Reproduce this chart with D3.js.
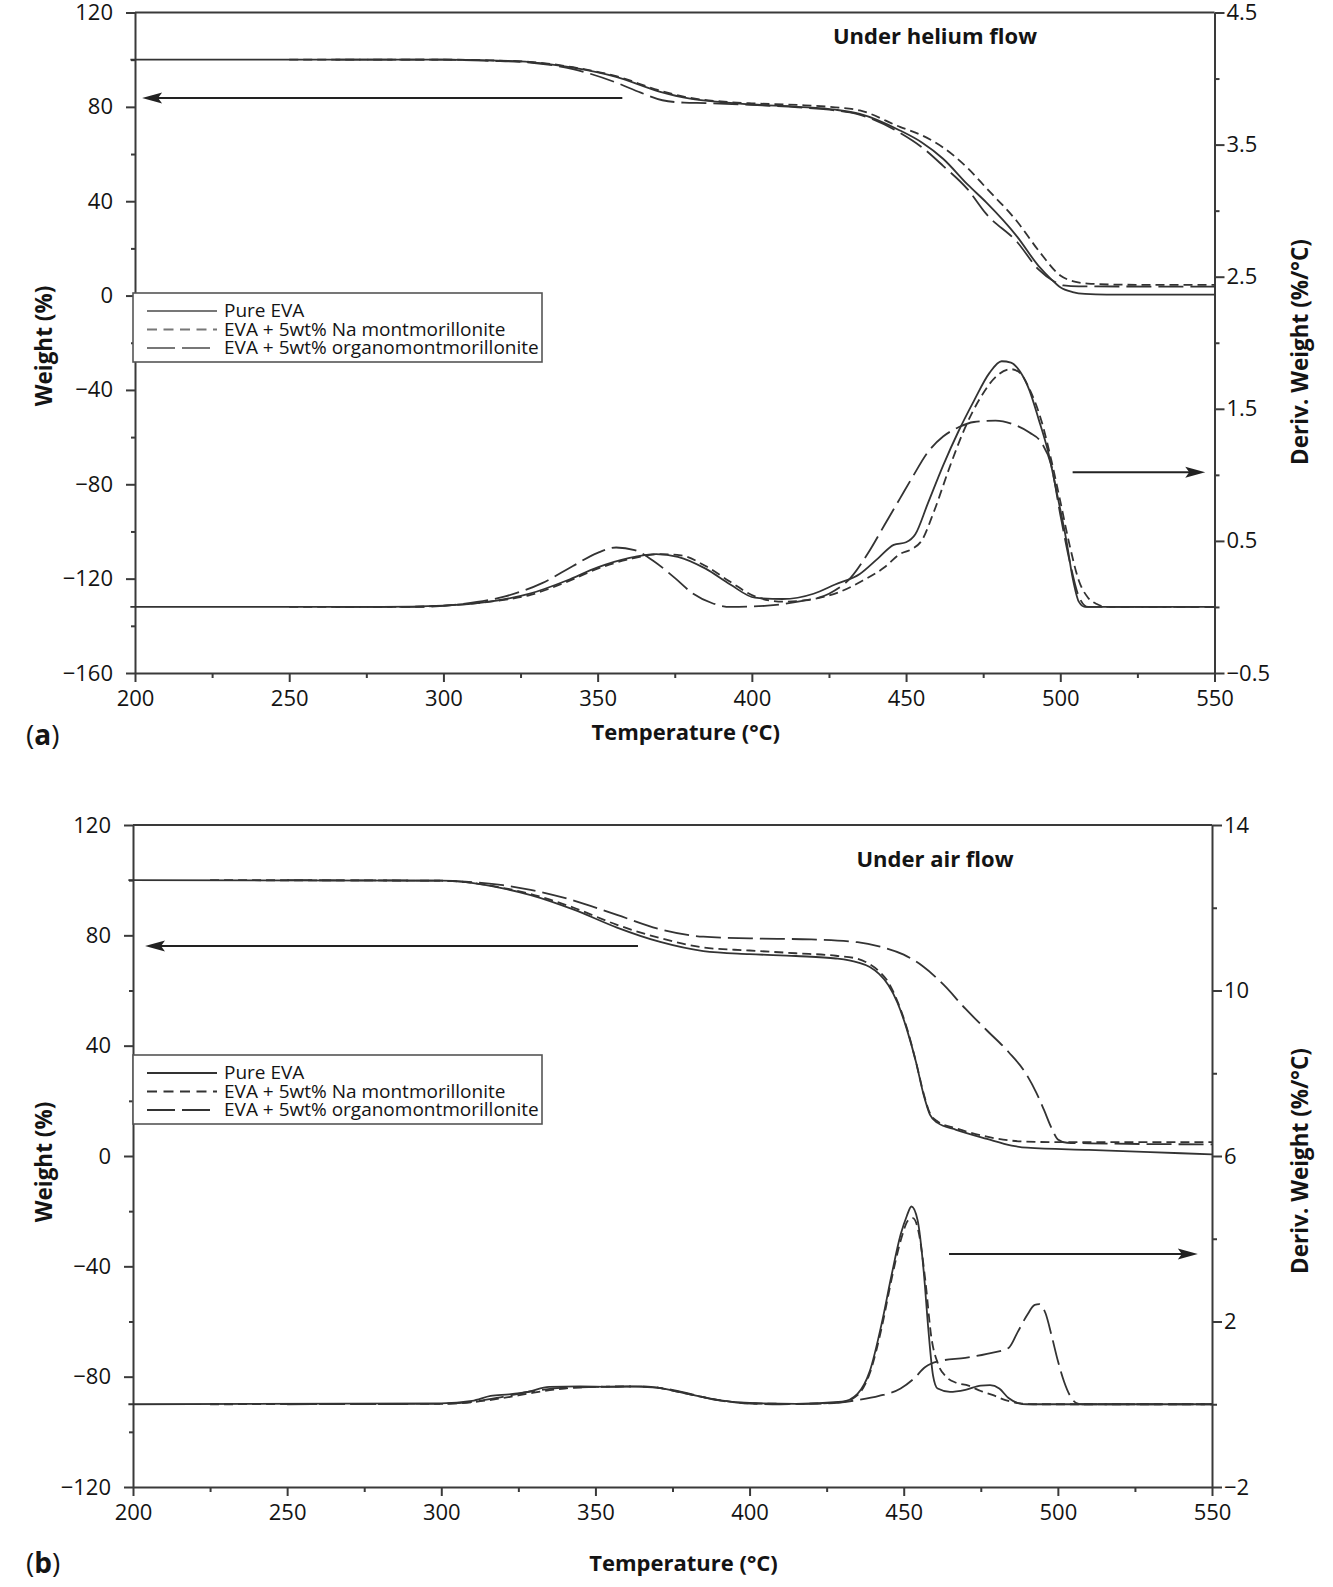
<!DOCTYPE html>
<html>
<head>
<meta charset="utf-8">
<script src="https://cdn.jsdelivr.net/npm/d3@7"></script>
<style>
  body { margin: 0; background: #fff; }
  svg { display: block; }
  text { font-family: "Open Sans", sans-serif; fill: #141414; }
</style>
</head>
<body>
<div id="chart"></div>
<script>
// ---- data ----
const seriesNames = ["Pure EVA", "EVA + 5wt% Na montmorillonite", "EVA + 5wt% organomontmorillonite"];

const tempTicks = [200, 250, 300, 350, 400, 450, 500, 550];
const tempMinorTicks = [225, 275, 325, 375, 425, 475, 525];

const heliumWeightTicks = [120, 80, 40, 0, -40, -80, -120, -160];
const heliumWeightMinor = [100, 60, 20, -20, -60, -100, -140];
const heliumDerivTicks = [4.5, 3.5, 2.5, 1.5, 0.5, -0.5];
const heliumDerivMinor = [4, 3, 2, 1, 0];

const airWeightTicks = [120, 80, 40, 0, -40, -80, -120];
const airWeightMinor = [100, 60, 20, -20, -60, -100];
const airDerivTicks = [14, 10, 6, 2, -2];
const airDerivMinor = [12, 8, 4, 0];

// (a) under helium: weight (%)
const heliumWeightPure = [[198.5,100],[300,100],[315,99.7],[328,99],[342,96.6],[356,92.7],[370,86.5],[380,83.5],[390,82],[400,81],[415,80],[427,78.8],[435,77],[448,70],[455,65],[462,58],[470,47],[476,39.5],[486,25],[493,12.5],[497,7],[500,3.5],[504,1.5],[508,0.7],[515,0.4],[550,0.4]];
const heliumWeightNa = [[250,100],[300,100],[315,99.7],[328,99.1],[342,96.8],[356,93],[370,87],[380,83.8],[390,82.3],[400,81.5],[415,80.8],[427,79.8],[435,78.5],[448,71.5],[455,68],[462,62.8],[470,54],[476,45.6],[486,31.4],[493,19],[500,8.5],[505,5.8],[510,5],[520,4.6],[550,4.5]];
const heliumWeightOrgano = [[265,100],[300,100],[315,99.5],[328,98.8],[342,96],[356,90.3],[364,86],[371,82.8],[378,81.8],[385,81.6],[400,80.8],[415,79.8],[427,78.5],[434,77],[448,69],[455,63],[462,55],[470,45],[476,34.6],[486,22.7],[493,11],[498,6],[501,4.3],[506,3.9],[550,3.8]];

// (a) under helium: derivative weight (%/°C)
const heliumDerivPure = [[198.5,0],[280,0],[300,0.01],[315,0.04],[328,0.1],[340,0.2],[350,0.3],[360,0.37],[369,0.4],[376,0.38],[385,0.29],[393,0.17],[401,0.07],[410,0.06],[420,0.1],[427,0.17],[435,0.25],[441,0.37],[446,0.47],[450,0.49],[453,0.55],[457,0.78],[462,1.07],[467,1.33],[472,1.56],[477,1.77],[481,1.86],[484,1.85],[487,1.78],[490,1.64],[493,1.42],[496,1.18],[499,0.85],[502,0.5],[504,0.22],[506,0.04],[508,0],[550,0]];
const heliumDerivNa = [[250,0],[285,0],[300,0.01],[315,0.04],[328,0.09],[340,0.19],[350,0.29],[360,0.36],[370,0.4],[377,0.39],[385,0.31],[393,0.19],[401,0.08],[410,0.04],[420,0.06],[428,0.11],[436,0.2],[443,0.3],[448,0.4],[452,0.44],[455,0.5],[459,0.72],[464,1.05],[469,1.35],[474,1.58],[479,1.74],[484,1.8],[487,1.77],[490,1.65],[494,1.4],[497,1.12],[500,0.8],[503,0.47],[506,0.2],[509,0.07],[512,0.02],[515,0],[550,0]];
const heliumDerivOrgano = [[265,0],[290,0],[305,0.02],[320,0.08],[332,0.18],[342,0.31],[350,0.41],[356,0.45],[362,0.43],[368,0.35],[375,0.22],[381,0.1],[387,0.03],[393,0],[405,0.01],[415,0.04],[425,0.1],[432,0.22],[438,0.42],[443,0.62],[448,0.82],[452,0.98],[457,1.17],[462,1.29],[467,1.36],[472,1.4],[479,1.41],[485,1.38],[490,1.32],[494,1.24],[497,1.08],[500,0.7],[503,0.35],[506,0.08],[509,0],[550,0]];

// (b) under air: weight (%)
const airWeightPure = [[198.5,100],[300,99.8],[308,99.3],[320,97],[329,94.6],[343,89.3],[357,82.8],[371,77.6],[385,74.3],[400,73.2],[415,72.5],[428,71.6],[435,70.2],[439,68.5],[442,66],[445,62],[448,55.5],[451,46],[454,34],[456.5,22],[458.5,15],[461,12],[467,9.5],[477,6.2],[485,3.8],[490,3],[510,2.2],[530,1.4],[550,0.6]];
const airWeightNa = [[225,100],[300,99.8],[308,99.3],[320,97.2],[329,95],[343,90],[357,83.8],[371,79],[385,75.6],[400,74.5],[415,73.5],[428,72.6],[435,71.5],[439,69.5],[442,67],[445,63],[448,56],[451,46.5],[454,34],[456.5,22.5],[458.5,15.5],[461,12.5],[467,10],[477,7],[488,5.3],[500,5],[550,5]];
const airWeightOrgano = [[250,100],[300,99.8],[310,99.3],[320,98.2],[329,96.5],[343,92.6],[357,87.4],[371,82.2],[385,79.5],[400,78.9],[420,78.5],[435,77.5],[442,76],[450,73],[456,69],[463,62],[470,53.4],[477,45.5],[484,37.7],[489.7,29.8],[493,23],[495.5,16.7],[498,10],[500,6],[503,4.8],[510,4.6],[550,4.2]];

// (b) under air: derivative weight (%/°C)
const airDerivPure = [[198.5,0],[300,0.02],[310,0.08],[316,0.2],[322,0.24],[328,0.3],[335,0.42],[345,0.43],[355,0.42],[365,0.43],[372,0.38],[380,0.25],[390,0.1],[400,0.03],[415,0.01],[430,0.06],[435,0.25],[439,0.8],[443,2.0],[446,3.1],[449,4.1],[451,4.55],[452.5,4.78],[454.5,4.45],[456.5,3.2],[458,1.8],[459.5,0.7],[461,0.38],[465,0.3],[470,0.35],[475,0.45],[478,0.46],[481,0.38],[484,0.15],[487,0.03],[490,0],[550,0]];
const airDerivNa = [[225,0],[300,0.01],[310,0.05],[320,0.15],[330,0.28],[340,0.38],[350,0.42],[360,0.43],[368,0.42],[375,0.33],[383,0.2],[392,0.08],[400,0.02],[415,0.01],[430,0.05],[435,0.22],[439,0.75],[443,1.9],[446,3.0],[449,3.95],[451.5,4.45],[453,4.5],[455,4.1],[457,3.0],[459,1.6],[461,1.0],[464,0.65],[467,0.52],[471,0.45],[475,0.32],[479,0.22],[483,0.1],[488,0.02],[492,0],[550,0]];
const airDerivOrgano = [[250,0],[300,0.01],[310,0.06],[320,0.18],[330,0.32],[340,0.4],[350,0.42],[360,0.43],[370,0.4],[378,0.3],[388,0.12],[398,0.03],[410,0],[425,0.02],[435,0.1],[442,0.2],[449,0.38],[453,0.6],[457,0.9],[462,1.05],[470,1.12],[477,1.22],[484,1.36],[487,1.75],[490,2.15],[492.5,2.4],[494,2.42],[496,2.2],[498,1.65],[500,1.05],[502,0.55],[504,0.2],[506,0.03],[508,0],[550,0]];

// arrows: temperature from / to, and the value on the axis they point at
const heliumArrows = [{from: 358, to: 202.3, value: 83.8, axis: "w"}, {from: 504, to: 547, value: 1.02, axis: "d"}];
const airArrows = [{from: 363.8, to: 203.9, value: 76.1, axis: "w"}, {from: 464.7, to: 545.4, value: 3.63, axis: "d"}];

// ---- layout ----
const W = 1333, H = 1587;
const dashes = [null, "9,5", "25,7"];
const ink = "#333";

const svg = d3.select("#chart").append("svg")
  .attr("width", W).attr("height", H);

const panels = [
  {
    left: 135, right: 1214.5, top: 12.5, bottom: 673,
    wTicks: heliumWeightTicks, wMinor: heliumWeightMinor,
    dTicks: heliumDerivTicks, dMinor: heliumDerivMinor,
    weights: [heliumWeightPure, heliumWeightNa, heliumWeightOrgano],
    derivs: [heliumDerivPure, heliumDerivNa, heliumDerivOrgano],
    arrows: heliumArrows,
    title: "Under helium flow", titleX: 935, titleY: 44,
    legendX: 133, legendY: 293, legendInk: "#777",
    tag: "a", tagY: 745, xTitleY: 740,
    yTitleY: 346, y2TitleY: 352
  },
  {
    left: 133, right: 1212, top: 825, bottom: 1487,
    wTicks: airWeightTicks, wMinor: airWeightMinor,
    dTicks: airDerivTicks, dMinor: airDerivMinor,
    weights: [airWeightPure, airWeightNa, airWeightOrgano],
    derivs: [airDerivPure, airDerivNa, airDerivOrgano],
    arrows: airArrows,
    title: "Under air flow", titleX: 935, titleY: 867,
    legendX: 133, legendY: 1055, legendInk: "#333",
    tag: "b", tagY: 1573, xTitleY: 1571,
    yTitleY: 1162, y2TitleY: 1161
  }
];

panels.forEach(drawPanel);

function styleAxis(g) {
  g.selectAll("path.domain").attr("stroke", "#3a3a3a").attr("stroke-width", 2);
  g.selectAll(".tick line").attr("stroke", "#3a3a3a").attr("stroke-width", 2);
  g.selectAll(".tick text")
    .attr("font-family", "'Open Sans', sans-serif")
    .attr("font-size", 22)
    .attr("fill", "#141414");
}

function drawPanel(p) {
  const g = svg.append("g");

  const x = d3.scaleLinear().domain([200, 550]).range([p.left, p.right]);
  const yW = d3.scaleLinear().domain(d3.extent(p.wTicks)).range([p.bottom, p.top]);
  const yD = d3.scaleLinear().domain(d3.extent(p.dTicks)).range([p.bottom, p.top]);

  // top frame line
  g.append("line")
    .attr("x1", p.left).attr("x2", p.right)
    .attr("y1", p.top).attr("y2", p.top)
    .attr("stroke", "#3a3a3a").attr("stroke-width", 2);

  // minor ticks
  g.append("g").attr("transform", `translate(0,${p.bottom})`)
    .call(d3.axisBottom(x).tickValues(tempMinorTicks).tickSize(5).tickFormat(""))
    .call(styleAxis).select(".domain").remove();
  g.append("g").attr("transform", `translate(${p.left},0)`)
    .call(d3.axisLeft(yW).tickValues(p.wMinor).tickSize(4).tickFormat(""))
    .call(styleAxis).select(".domain").remove();
  g.append("g").attr("transform", `translate(${p.right},0)`)
    .call(d3.axisRight(yD).tickValues(p.dMinor).tickSize(5).tickFormat(""))
    .call(styleAxis).select(".domain").remove();

  // major axes
  g.append("g").attr("transform", `translate(0,${p.bottom})`)
    .call(d3.axisBottom(x).tickValues(tempTicks).tickSize(9).tickSizeOuter(0).tickPadding(8).tickFormat(d3.format("d")))
    .call(styleAxis);
  g.append("g").attr("transform", `translate(${p.left},0)`)
    .call(d3.axisLeft(yW).tickValues(p.wTicks).tickSize(9).tickSizeOuter(0).tickPadding(13).tickFormat(d3.format("d")))
    .call(styleAxis);
  g.append("g").attr("transform", `translate(${p.right},0)`)
    .call(d3.axisRight(yD).tickValues(p.dTicks).tickSize(10).tickSizeOuter(0).tickPadding(2).tickFormat(d3.format("")))
    .call(styleAxis);

  // curves
  const lineW = d3.line().x(d => x(d[0])).y(d => yW(d[1])).curve(d3.curveMonotoneX);
  const lineD = d3.line().x(d => x(d[0])).y(d => yD(d[1])).curve(d3.curveMonotoneX);

  p.weights.forEach((s, i) => {
    g.append("path").datum(s).attr("d", lineW)
      .attr("fill", "none").attr("stroke", ink).attr("stroke-width", 1.8)
      .attr("stroke-dasharray", dashes[i]);
  });
  p.derivs.forEach((s, i) => {
    g.append("path").datum(s).attr("d", lineD)
      .attr("fill", "none").attr("stroke", ink).attr("stroke-width", 1.8)
      .attr("stroke-dasharray", dashes[i]);
  });

  // arrows
  p.arrows.forEach(a => {
    const yy = a.axis === "w" ? yW(a.value) : yD(a.value);
    const x1 = x(a.from), x2 = x(a.to);
    const dir = Math.sign(x2 - x1);
    g.append("line")
      .attr("x1", x1).attr("x2", x2 - dir * 10)
      .attr("y1", yy).attr("y2", yy)
      .attr("stroke", "#222").attr("stroke-width", 2);
    g.append("path")
      .attr("d", `M${x2},${yy} L${x2 - dir * 20},${yy - 5.5} L${x2 - dir * 16},${yy} L${x2 - dir * 20},${yy + 5.5} Z`)
      .attr("fill", "#222");
  });

  // legend
  const lg = g.append("g").attr("transform", `translate(${p.legendX},${p.legendY})`);
  lg.append("rect").attr("width", 409).attr("height", 69)
    .attr("fill", "#fff").attr("stroke", "#555").attr("stroke-width", 1.6);
  seriesNames.forEach((name, i) => {
    const ly = 18 + i * 18.5;
    lg.append("line").attr("x1", 14).attr("x2", 84).attr("y1", ly).attr("y2", ly)
      .attr("stroke", p.legendInk).attr("stroke-width", 2)
      .attr("stroke-dasharray", i === 0 ? null : (i === 1 ? "10,6.5" : "28,7"));
    lg.append("text").attr("x", 91).attr("y", ly + 6)
      .attr("font-size", 19).text(name);
  });

  // titles
  g.append("text").attr("x", p.titleX).attr("y", p.titleY)
    .attr("text-anchor", "middle").attr("font-weight", "bold").attr("font-size", 22)
    .text(p.title);
  g.append("text").attr("x", (p.left + p.right) / 2 + 11).attr("y", p.xTitleY)
    .attr("text-anchor", "middle").attr("font-weight", "bold").attr("font-size", 22)
    .text("Temperature (°C)");
  g.append("text").attr("transform", `translate(52,${p.yTitleY}) rotate(-90)`)
    .attr("text-anchor", "middle").attr("font-weight", "bold").attr("font-size", 22.5)
    .text("Weight (%)");
  g.append("text").attr("transform", `translate(1308,${p.y2TitleY}) rotate(-90)`)
    .attr("text-anchor", "middle").attr("font-weight", "bold").attr("font-size", 22.5)
    .text("Deriv. Weight (%/°C)");

  const tag = g.append("text").attr("x", 26).attr("y", p.tagY).attr("font-size", 28);
  tag.append("tspan").text("(");
  tag.append("tspan").attr("font-weight", "bold").text(p.tag);
  tag.append("tspan").text(")");
}
</script>
</body>
</html>
